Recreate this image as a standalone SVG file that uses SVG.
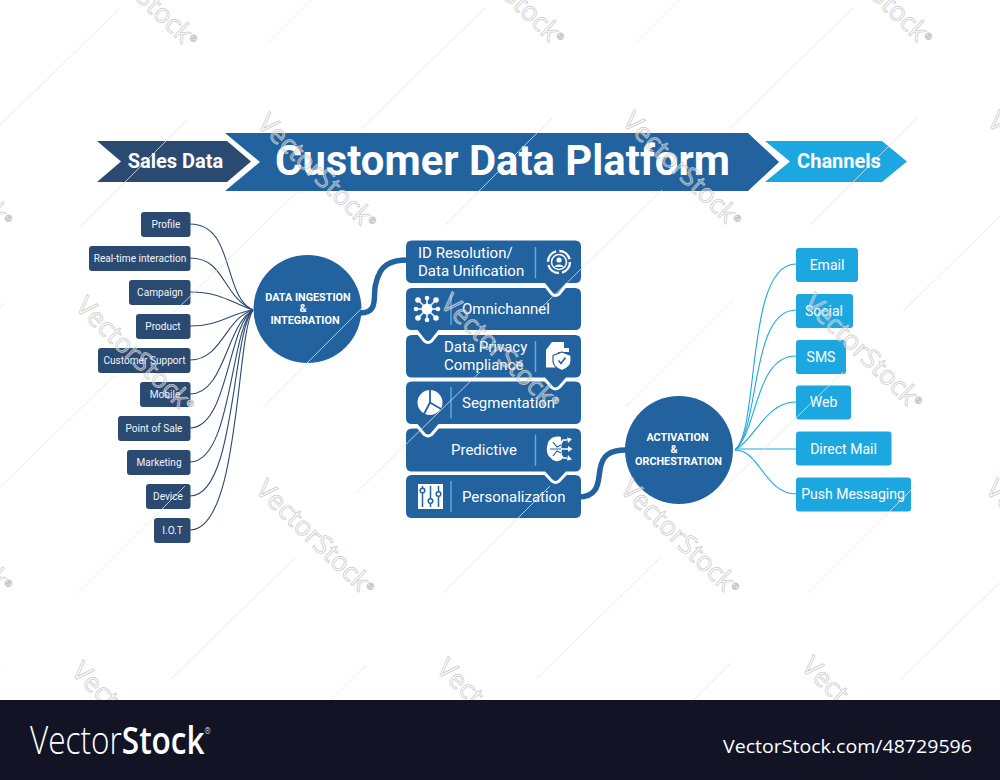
<svg xmlns="http://www.w3.org/2000/svg" xmlns:xlink="http://www.w3.org/1999/xlink" width="1000" height="780" viewBox="0 0 1000 780">
<style>
text{font-family:Roboto,"Liberation Sans",sans-serif}
.src rect{fill:#2b4a72}
.src text{fill:#f2f5f9;font-size:10.1px;text-anchor:middle}
.ch rect{fill:#1da7e0}
.ch text{fill:#fff;font-size:14px;text-anchor:middle}
.blk path.b{fill:#21629f;stroke:#fff;stroke-width:6;stroke-linejoin:round;paint-order:stroke}
.blk text{fill:#fff;font-size:15px}
.blk line.sep{stroke:#5db0e4;stroke-width:1.4}
.hub circle{fill:#21629f}
.hub text{fill:#fff;font-size:10.8px;font-weight:700;text-anchor:middle}
.ban text{fill:#fff;font-weight:700;text-anchor:middle}
#conL path{fill:none;stroke:#2b4a72;stroke-width:1.1}
#conR path{fill:none;stroke:#1da7e0;stroke-width:1.1}
#conT path{fill:none;stroke:#21629f;stroke-width:5.500}
.wm{fill:#fff;fill-opacity:.35;stroke:#c8c8c8;stroke-width:.7;font-family:"Open Sans","Liberation Sans",sans-serif;font-size:26.500px}
.wr{font-size:9px}
.wl{stroke:#e4e4e4;stroke-width:.8}
.ic{fill:#fff}
.ft{fill:#fff;font-family:"Open Sans","Liberation Sans",sans-serif}
</style>
<defs>
<g id="wt">
<line class="wl" x1="-182" y1="115" x2="-75" y2="8"/>
<line class="wl" x1="-89" y1="201" x2="35" y2="80"/>
<text class="wm" transform="translate(-6,13) rotate(44)">VectorStock<tspan class="wr" dy="-9">®</tspan></text>
</g>
<g id="wb">
<line class="wl" x1="-182" y1="115" x2="-75" y2="8"/>
<text class="wm" transform="translate(-6,13) rotate(44)">Vect</text>
</g>
</defs>
<rect width="1000" height="780" fill="#fff"/>

<g id="banner-sales" class="ban"><path d="M97 141H227L251 161.500L227 182H97L121 161.500Z" fill="#2b4a72"/><text x="175.500" y="167.500" font-size="20">Sales Data</text></g>
<g id="banner-main" class="ban"><path d="M225 133H748L779 162L748 191H225L260 162Z" fill="#21629f"/><text x="502.500" y="175" font-size="41.800">Customer Data Platform</text></g>
<g id="banner-channels" class="ban"><path d="M765 141H882L907 161.500L882 182H765L790 161.500Z" fill="#1da7e0"/><text x="839" y="167.500" font-size="20">Channels</text></g>

<g id="conL">
<path d="M190 224C235 224 222 296 253 310"/>
<path d="M190 258C225 258 222 296 253 310"/>
<path d="M190 292C220 292 230 302 253 310"/>
<path d="M190 326C220 326 228 314 253 310"/>
<path d="M190 360C222 360 225 318 253 310"/>
<path d="M190 394C225 394 226 325 253 310"/>
<path d="M190 428C228 428 228 325 253 310"/>
<path d="M190 462C232 462 230 330 253 310"/>
<path d="M190 496C236 496 232 330 253 310"/>
<path d="M190 530C240 530 236 335 253 310"/>
</g>
<g id="conR">
<path d="M735 450C760 430 745 264 796 264"/>
<path d="M735 450C760 430 750 310 796 310"/>
<path d="M735 450C758 430 755 356 796 356"/>
<path d="M735 450C755 440 765 402 796 402"/>
<path d="M735 449H796"/>
<path d="M735 450C760 450 765 494 796 494"/>
</g>

<g id="src-profile" class="src"><rect x="141" y="212" width="49.500" height="25" rx="3"/><text x="166" y="228">Profile</text></g>
<g id="src-realtime" class="src"><rect x="89" y="246" width="101.500" height="25" rx="3"/><text x="140" y="262">Real-time interaction</text></g>
<g id="src-campaign" class="src"><rect x="129" y="280" width="61.500" height="25" rx="3"/><text x="160" y="296">Campaign</text></g>
<g id="src-product" class="src"><rect x="136" y="314" width="54.500" height="25" rx="3"/><text x="163" y="330">Product</text></g>
<g id="src-support" class="src"><rect x="98" y="348" width="92.500" height="25" rx="3"/><text x="144.500" y="364">Customer Support</text></g>
<g id="src-mobile" class="src"><rect x="140" y="382" width="50.500" height="25" rx="3"/><text x="165" y="398">Mobile</text></g>
<g id="src-pos" class="src"><rect x="118" y="416" width="72.500" height="25" rx="3"/><text x="154" y="432">Point of Sale</text></g>
<g id="src-marketing" class="src"><rect x="127" y="450" width="63.500" height="25" rx="3"/><text x="159" y="466">Marketing</text></g>
<g id="src-device" class="src"><rect x="146" y="484" width="44.500" height="25" rx="3"/><text x="168" y="500">Device</text></g>
<g id="src-iot" class="src"><rect x="154" y="518" width="36.500" height="25" rx="3"/><text x="172.500" y="534">I.O.T</text></g>

<g id="hub-ingestion" class="hub"><circle cx="307.500" cy="309" r="54"/><text x="308" y="300.500">DATA INGESTION</text><text x="303" y="312">&amp;</text><text x="305" y="324">INTEGRATION</text></g>
<g id="hub-activation" class="hub"><circle cx="679" cy="450" r="54"/><text x="677.500" y="441">ACTIVATION</text><text x="674" y="453">&amp;</text><text x="678.500" y="464.500">ORCHESTRATION</text></g>

<g id="block-personalization" class="blk">
<path class="b" d="M412 475H575Q581 475 581 481V512Q581 518 575 518H412Q406 518 406 512V481Q406 475 412 475Z"/>
<line class="sep" x1="451" y1="481" x2="451" y2="512"/>
<rect class="ic" x="418" y="484" width="25" height="25"/>
<g stroke="#21629f" stroke-width="1.500" fill="#fff"><path d="M422.500 486V507M430.500 486V507M438.500 486V507" fill="none"/><circle cx="422.500" cy="490.500" r="2.300"/><circle cx="430.500" cy="501" r="2.300"/><circle cx="438.500" cy="494" r="2.300"/></g>
<text x="462" y="502">Personalization</text>
</g>
<g id="block-predictive" class="blk">
<path class="b" d="M412 428.500H575Q581 428.500 581 434.500V465.500Q581 471.500 575 471.500H566L558 480Q555.500 482 553 480L545 471.500H412Q406 471.500 406 465.500V434.500Q406 428.500 412 428.500Z"/>
<line class="sep" x1="535.500" y1="434.500" x2="535.500" y2="466"/>
<path class="ic" d="M561 437C553 435 548 440 547.500 445C546 449 547 456 551 458C553 462 560 462 562 459Z"/>
<g stroke="#fff" stroke-width="1.600" fill="none"><path d="M560 449H569M560 445L563 440H567M560 453L563 458H567"/></g>
<g stroke="#21629f" stroke-width="1.200" fill="none"><path d="M550 449H561M553 442L557 447L561 445M553 456L557 451L561 453"/></g>
<g class="ic"><path d="M567 437.500L572 439L568 443Z"/><path d="M568 446L572.500 449L568 452Z"/><path d="M568 455L572 459.500L567 460.500Z"/></g>
<text x="451" y="455">Predictive</text>
</g>
<g id="block-segmentation" class="blk">
<path class="b" d="M412 381.500H575Q581 381.500 581 387.500V418Q581 424 575 424H438.500L430.500 433.500Q428 435.500 425.500 433.500L417.500 424H412Q406 424 406 418V387.500Q406 381.500 412 381.500Z"/>
<line class="sep" x1="451" y1="387" x2="451" y2="418.500"/>
<circle class="ic" cx="430" cy="402.500" r="12.500"/>
<path d="M430 402.500V389.500M430 402.500L441 409M430 402.500L424 414" stroke="#21629f" stroke-width="1.800" fill="none"/>
<text x="462" y="407.500">Segmentation</text>
</g>
<g id="block-privacy" class="blk">
<path class="b" d="M412 335H575Q581 335 581 341V371.500Q581 377.500 575 377.500H566L558 386.500Q555.500 388.500 553 386.500L545 377.500H412Q406 377.500 406 371.500V341Q406 335 412 335Z"/>
<line class="sep" x1="535.500" y1="341" x2="535.500" y2="372"/>
<path class="ic" d="M552 342H564L564 348L569 348V352H558V367.500H546V350Z"/>
<path d="M562 352L571 355.500V361C571 366 566 369 562 370.500C558 369 553 366 553 361V355.500Z" fill="#fff" stroke="#21629f" stroke-width="1.200"/>
<path d="M558.500 360.500L561 363.500L565.500 357.500" fill="none" stroke="#21629f" stroke-width="1.600"/>
<text x="444" y="352">Data Privacy</text><text x="444" y="370">Compliance</text>
</g>
<g id="block-omnichannel" class="blk">
<path class="b" d="M412 288H575Q581 288 581 294V324Q581 330 575 330H438.500L430.500 340Q428 342 425.500 340L417.500 330H412Q406 330 406 324V294Q406 288 412 288Z"/>
<line class="sep" x1="451" y1="294" x2="451" y2="325"/>
<g stroke="#fff" stroke-width="1.500"><path d="M427 297V321M415 309H439M419 301L435 317M435 301L419 317"/></g>
<circle class="ic" cx="427" cy="309" r="5.500"/>
<g class="ic"><circle cx="427" cy="298" r="2.300"/><circle cx="427" cy="320" r="2.300"/><circle cx="416" cy="309" r="2.300"/><circle cx="438" cy="309" r="2.300"/><circle cx="418" cy="300" r="2.800"/><circle cx="436" cy="300" r="2.800"/><circle cx="418" cy="318" r="2.800"/><circle cx="436" cy="318" r="2.800"/></g>
<text x="462" y="314">Omnichannel</text>
</g>
<g id="block-id" class="blk">
<path class="b" d="M412 240.500H575Q581 240.500 581 246.500V277Q581 283 575 283H566L558 293Q555.500 295 553 293L545 283H412Q406 283 406 277V246.500Q406 240.500 412 240.500Z"/>
<line class="sep" x1="535.500" y1="247" x2="535.500" y2="278"/>
<circle cx="559" cy="262" r="11" fill="none" stroke="#fff" stroke-width="2.400" stroke-dasharray="14 3.300"/>
<circle cx="559" cy="262" r="7.500" fill="none" stroke="#fff" stroke-width="1.500"/>
<circle class="ic" cx="559" cy="260" r="2.600"/><path class="ic" d="M554.500 267C555 263.500 563 263.500 563.500 267Z"/>
<text x="418" y="258">ID Resolution/</text><text x="418" y="276">Data Unification</text>
</g>

<g id="conT">
<path d="M360 313C380 313 372 295 376 283C380 265 390 260 408 260"/>
<path d="M578 497C600 497 598 480 600 470C602 455 610 450 626 450"/>
</g>

<g id="ch-email" class="ch"><rect x="796" y="248" width="62" height="34" rx="3"/><text x="827" y="269.500">Email</text></g>
<g id="ch-social" class="ch"><rect x="796" y="294" width="57" height="34" rx="3"/><text x="824" y="315.500">Social</text></g>
<g id="ch-sms" class="ch"><rect x="796" y="340" width="50" height="34" rx="3"/><text x="821" y="361.500">SMS</text></g>
<g id="ch-web" class="ch"><rect x="796" y="385.500" width="55" height="34" rx="3"/><text x="823.500" y="407">Web</text></g>
<g id="ch-mail" class="ch"><rect x="796" y="431.500" width="95.500" height="34" rx="3"/><text x="843.500" y="453.500">Direct Mail</text></g>
<g id="ch-push" class="ch"><rect x="796" y="477.500" width="115" height="34" rx="3"/><text x="853" y="499">Push Messaging</text></g>

<g id="watermarks">
<use xlink:href="#wt" href="#wt" x="83" y="-70"/>
<use xlink:href="#wt" href="#wt" x="450" y="-72"/>
<use xlink:href="#wt" href="#wt" x="818" y="-72"/>
<use xlink:href="#wt" href="#wt" x="-102" y="110"/>
<use xlink:href="#wt" href="#wt" x="262" y="112"/>
<use xlink:href="#wt" href="#wt" x="627" y="110"/>
<use xlink:href="#wt" href="#wt" x="992" y="110"/>
<use xlink:href="#wt" href="#wt" x="80" y="295"/>
<use xlink:href="#wt" href="#wt" x="445" y="292"/>
<use xlink:href="#wt" href="#wt" x="808" y="292"/>
<use xlink:href="#wt" href="#wt" x="260" y="478"/>
<use xlink:href="#wt" href="#wt" x="625" y="478"/>
<use xlink:href="#wt" href="#wt" x="990" y="478"/>
<use xlink:href="#wt" href="#wt" x="-102" y="475"/>
<use xlink:href="#wb" href="#wb" x="76" y="660"/>
<use xlink:href="#wb" href="#wb" x="441" y="657"/>
<use xlink:href="#wb" href="#wb" x="806" y="655"/>
</g>

<g id="footer">
<rect y="700" width="1000" height="80" fill="#121426"/>
<text class="ft" transform="translate(30,754) scale(.83,1)" font-size="38" font-weight="300">Vector<tspan font-weight="600">Stock</tspan><tspan font-size="9" dy="-20">®</tspan></text>
<text class="ft" x="723" y="753" font-size="18.500" textLength="249" lengthAdjust="spacingAndGlyphs">VectorStock.com/48729596</text>
</g>
</svg>
